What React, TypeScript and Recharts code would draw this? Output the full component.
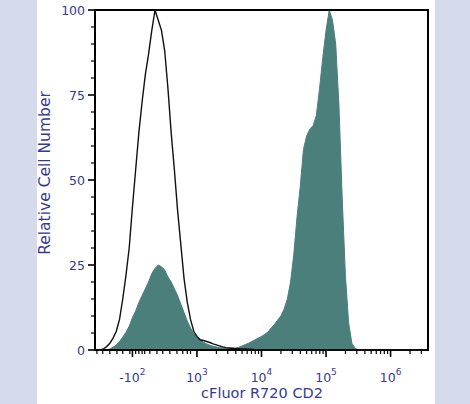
import React from 'react';
import { ComposedChart, Area, Line, XAxis, YAxis, ReferenceArea } from 'recharts';

// logicle display units: 3 = 10^3, 4 = 10^4 ...
const binCenters = [
  1.45, 1.5, 1.55, 1.6, 1.65, 1.7, 1.75, 1.8, 1.85, 1.9, 1.95,
  2.0, 2.05, 2.1, 2.15, 2.2, 2.25, 2.3, 2.35, 2.4, 2.45, 2.5, 2.55, 2.6, 2.65, 2.7, 2.75, 2.8, 2.85, 2.9, 2.95,
  3.0, 3.05, 3.1, 3.15, 3.2, 3.25, 3.3, 3.35, 3.4, 3.45, 3.5, 3.55, 3.6, 3.65, 3.7, 3.75, 3.8, 3.85, 3.9, 3.95,
  4.0, 4.05, 4.1, 4.15, 4.2, 4.25, 4.3, 4.35, 4.4, 4.45, 4.5, 4.55, 4.6, 4.65, 4.7, 4.75, 4.8, 4.85, 4.9, 4.95,
  5.0, 5.05, 5.1, 5.15, 5.2, 5.25, 5.3, 5.35, 5.4, 5.45, 5.5, 5.55, 5.6, 5.65, 5.7, 5.75, 5.8, 5.85, 5.9, 5.95,
  6.0, 6.05, 6.1, 6.15, 6.2, 6.25, 6.3, 6.35, 6.4, 6.45, 6.5, 6.55,
];

// unstained control (black outline)
const controlCounts = [
  0, 0, 0.3, 1, 2, 3.5, 5.5, 9, 15, 22, 30,
  42, 53, 64, 73, 81, 87, 94, 100, 97, 94, 88, 77, 64, 53, 41, 31, 21, 14, 9, 5.5,
  4, 3, 2.8, 2.5, 2.2, 1.8, 1.5, 1.2, 0.9, 0.7, 0.6, 0.5, 0.4, 0.4, 0.3, 0.3, 0.2, 0.2, 0.1, 0.1,
  0, 0, 0, 0, 0, 0, 0, 0, 0, 0, 0, 0, 0, 0, 0, 0, 0, 0, 0, 0,
  0, 0, 0, 0, 0, 0, 0, 0, 0, 0, 0, 0, 0, 0, 0, 0, 0, 0, 0, 0,
  0, 0, 0, 0, 0, 0, 0, 0, 0, 0, 0, 0,
];

// cFluor R720 CD2 stained (filled)
const stainedCounts = [
  0, 0, 0, 0, 0.3, 0.8, 1.5, 2.5, 3.8, 5.2, 7,
  9.5, 11.5, 14, 16, 18, 20, 22.5, 24, 25, 24.5, 23.5, 21.5, 20, 18, 16, 13.5, 11, 8.5, 6.5, 4.8,
  3.8, 3, 2.3, 1.8, 1.4, 1.1, 0.9, 0.7, 0.6, 0.5, 0.5, 0.5, 0.6, 0.8, 1.2, 1.6, 2, 2.5, 3, 3.5,
  4, 4.6, 5.3, 6.5, 7.5, 8.8, 10, 12, 15, 20, 28, 39, 48, 59, 63, 65, 66, 69, 77, 86,
  94, 100, 97, 90, 72, 45, 22, 8, 2, 0.5, 0, 0, 0, 0, 0, 0, 0, 0, 0, 0,
  0, 0, 0, 0, 0, 0, 0, 0, 0, 0, 0, 0,
];

const xMajorTicks = [2.0, 3, 4, 5, 6];
const xMajorLabels = [
  { base: '-10', exp: '2' },
  { base: '10', exp: '3' },
  { base: '10', exp: '4' },
  { base: '10', exp: '5' },
  { base: '10', exp: '6' },
];
const xMinorTicks = [
  1.45, 1.54, 1.65, 1.76, 1.85, 1.96, 2.05, 2.1, 2.15, 2.19, 2.27, 2.38, 2.47, 2.58, 2.69, 2.78, 2.85, 2.9,
  3.301, 3.477, 3.602, 3.699, 3.778, 3.845, 3.903, 3.954,
  4.301, 4.477, 4.602, 4.699, 4.778, 4.845, 4.903, 4.954,
  5.301, 5.477, 5.602, 5.699, 5.778, 5.845, 5.903, 5.954,
  6.301, 6.477,
];
const yTicks = [0, 5, 10, 15, 20, 25, 30, 35, 40, 45, 50, 55, 60, 65, 70, 75, 80, 85, 90, 95, 100];
const yLabelled = [0, 25, 50, 75, 100];

const X_MIN = 1.42;
const X_MAX = 6.58;
const NAVY = '#363a8e';
const TEAL = '#4b7f7c';
const FONT = '"DejaVu Sans", Verdana, sans-serif';

const data = binCenters.map((x, i) => ({
  x,
  control: controlCounts[i],
  stained: stainedCounts[i],
}));

const allXTicks = [...xMajorTicks, ...xMinorTicks].sort((a, b) => a - b);

const XTick = (props: any) => {
  const { x, y, payload } = props;
  const idx = xMajorTicks.indexOf(payload.value);
  const major = idx >= 0;
  return (
    <g>
      <line x1={x} x2={x} y1={y} y2={y + (major ? 7 : 4)} stroke="#000" strokeWidth={major ? 1.6 : 1.2} />
      {major && (
        <text x={x} y={y + 32} textAnchor="middle" fill={NAVY} fontFamily={FONT} fontSize={12.5}>
          {xMajorLabels[idx].base}
          <tspan dy={-7} fontSize={9}>{xMajorLabels[idx].exp}</tspan>
        </text>
      )}
    </g>
  );
};

const YTick = (props: any) => {
  const { x, y, payload } = props;
  const major = yLabelled.includes(payload.value);
  return (
    <g>
      <line x1={x} x2={x - (major ? 7 : 4)} y1={y} y2={y} stroke="#000" strokeWidth={major ? 1.6 : 1.2} />
      {major && (
        <text x={x - 10} y={y} dy={4.5} textAnchor="end" fill={NAVY} fontFamily={FONT} fontSize={12.5}>
          {payload.value}
        </text>
      )}
    </g>
  );
};

export default function App() {
  return (
    <div style={{ position: 'absolute', left: 0, top: 0, width: 470, height: 404, background: '#d5dbea' }}>
      <div style={{ position: 'absolute', left: 37, top: 0, width: 398, height: 404, background: '#fff' }} />
      <div style={{ position: 'absolute', left: 0, top: 0 }}>
        <ComposedChart width={470} height={404} data={data} margin={{ top: 10, right: 42, bottom: 0, left: 0 }}>
          <XAxis
            dataKey="x"
            type="number"
            domain={[X_MIN, X_MAX]}
            ticks={allXTicks}
            interval={0}
            tick={<XTick />}
            tickLine={false}
            axisLine={false}
            tickSize={0}
            tickMargin={0}
            height={54}
          />
          <YAxis
            type="number"
            domain={[0, 100]}
            ticks={yTicks}
            interval={0}
            tick={<YTick />}
            tickLine={false}
            axisLine={false}
            tickSize={0}
            tickMargin={0}
            width={95}
          />
          <Area
            type="linear"
            dataKey="stained"
            stroke={TEAL}
            strokeWidth={1}
            fill={TEAL}
            fillOpacity={1}
            dot={false}
            activeDot={false}
            isAnimationActive={false}
          />
          <Line
            type="linear"
            dataKey="control"
            stroke="#111"
            strokeWidth={1.4}
            dot={false}
            activeDot={false}
            isAnimationActive={false}
          />
          <ReferenceArea x1={X_MIN} x2={X_MAX} y1={0} y2={100} fill="none" stroke="#000" strokeWidth={2} ifOverflow="visible" />
        </ComposedChart>
      </div>
      <div
        style={{
          position: 'absolute', left: 262, top: 393, transform: 'translate(-50%, -50%)',
          whiteSpace: 'nowrap', color: NAVY, fontFamily: FONT, fontSize: 14.5,
        }}
      >
        cFluor R720 CD2
      </div>
      <div
        style={{
          position: 'absolute', left: 45, top: 173, transform: 'translate(-50%, -50%) rotate(-90deg)',
          whiteSpace: 'nowrap', color: NAVY, fontFamily: FONT, fontSize: 15.5,
        }}
      >
        Relative Cell Number
      </div>
    </div>
  );
}
